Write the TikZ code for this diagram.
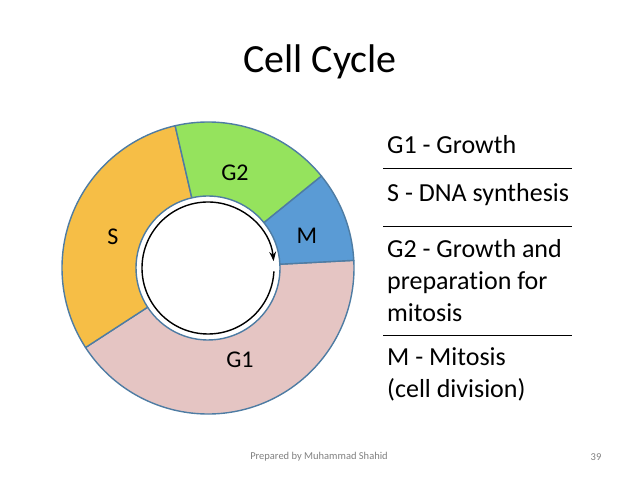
\documentclass[tikz,border=0pt]{standalone}
\usepackage{fontspec}
\setmainfont{Carlito}[Ligatures=NoCommon]
\usetikzlibrary{arrows.meta,calc}
\definecolor{phaseS}{HTML}{F6BE46}
\definecolor{phaseGtwo}{HTML}{95E35D}
\definecolor{phaseM}{HTML}{5A9BD5}
\definecolor{phaseGone}{HTML}{E5C5C3}
\definecolor{ringedge}{HTML}{4E7CA3}

\begin{document}
\begin{tikzpicture}[x=1pt,y=1pt,
 seg/.style={draw=ringedge,line width=1.4pt,line join=round},
 phase/.style={font=\fontsize{24}{28}\selectfont,inner sep=0pt},
 key/.style={font=\fontsize{26}{32}\selectfont,align=left,anchor=west,inner sep=0pt},
 foot/.style={font=\fontsize{10.5}{12}\selectfont,text=black!50,inner sep=0pt}]
\useasboundingbox (0,0) rectangle (638,478);
\coordinate (hub) at (208,210);
% ring of the four phases
\foreach \a/\b/\c in {213/363/phaseGone,103/213/phaseS,39/103/phaseGtwo,3/39/phaseM} {
 \filldraw[seg,fill=\c] ($(hub)+(\a:72)$) -- ($(hub)+(\a:146)$)
  arc[start angle=\a,end angle=\b,radius=146] -- ($(hub)+(\b:72)$)
  arc[start angle=\b,end angle=\a,radius=72] -- cycle;}
\draw[-{Stealth[length=3.3mm,width=2.4mm]},line width=1.4pt] ($(hub)+(-3:66)$) arc[start angle=-3,end angle=-354,radius=66];
\node[phase] (lG2) at (235,305) {G2};
\node[phase] (lS) at (113,241) {S};
\node[phase] (lM) at (307,242) {M};
\node[phase] (lG1) at (240,118) {G1};
% title and key
\node[font=\fontsize{40}{46}\selectfont,inner sep=0pt] (title) at (320,416) {Cell Cycle};
\node[key] (kG1) at (387,333) {G1 - Growth};
\node[key] (kS) at (387,283) {S - DNA synthesis};
\node[key] (kG2) at (387,197) {G2 - Growth and\\preparation for\\mitosis};
\node[key] (kM) at (387,104) {M - Mitosis\\(cell division)};
\foreach \y in {309,251,142}
 \draw[line width=1pt] (383,\y) -- (572,\y);
\node[foot] (author) at (319,21) {Prepared by Muhammad Shahid};
\node[foot] (page) at (596,21) {39};
\end{tikzpicture}
\end{document}
